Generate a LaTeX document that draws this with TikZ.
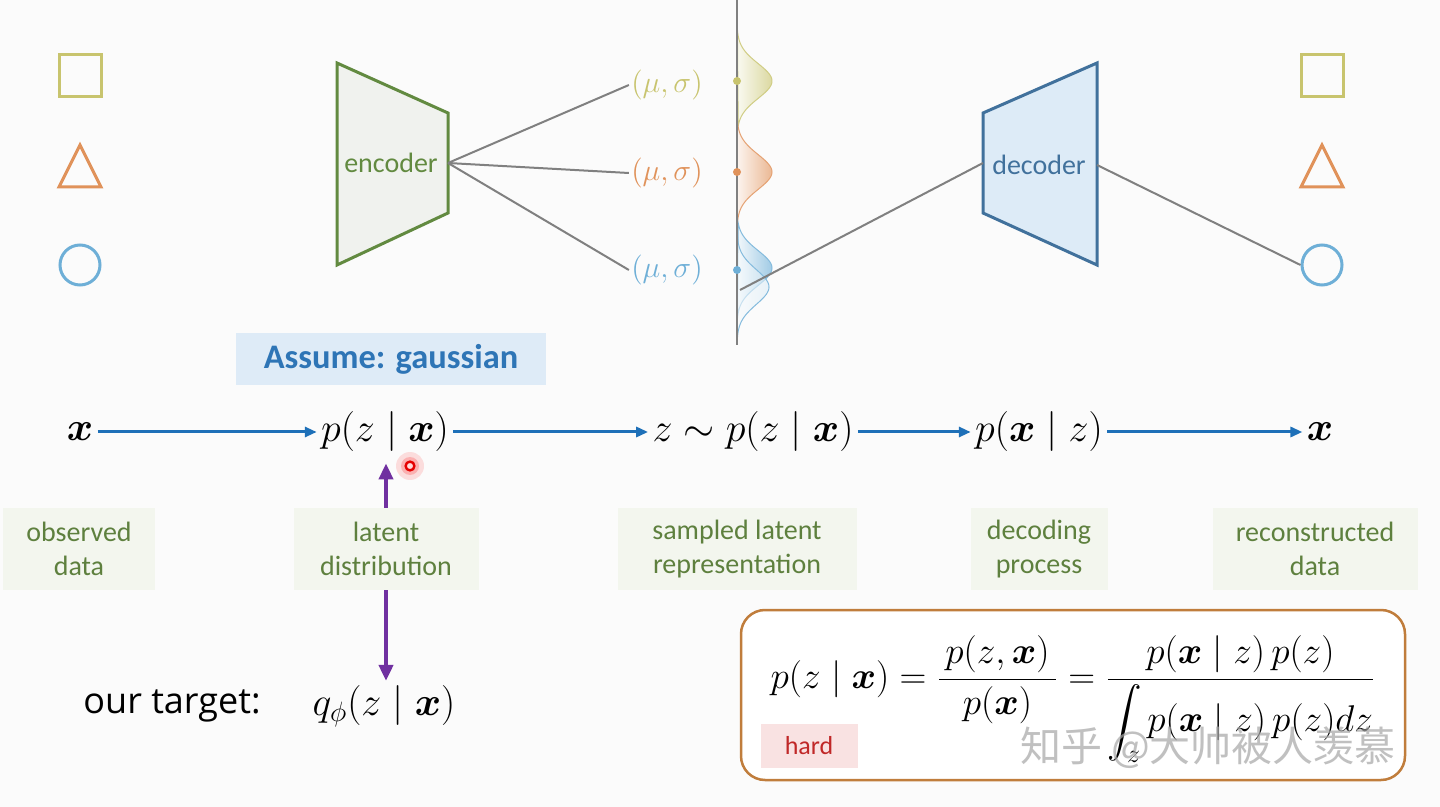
\RequirePackage{fix-cm}
\documentclass[tikz,border=0pt]{standalone}
\usepackage{amsmath}
\usepackage[no-math]{fontspec}
\newfontfamily\labfont{Carlito}
\newfontfamily\tgtfont{Open Sans}
\newfontfamily\cjkfont{Noto Sans CJK SC}
\usetikzlibrary{arrows.meta}
\definecolor{bgc}{RGB}{251,251,251}
\definecolor{olv}{RGB}{200,196,110}
\definecolor{org}{RGB}{224,146,90}
\definecolor{lbl}{RGB}{110,175,215}
\definecolor{encg}{RGB}{98,138,64}
\definecolor{encf}{RGB}{240,242,238}
\definecolor{decb}{RGB}{65,113,156}
\definecolor{decf}{RGB}{221,235,247}
\definecolor{arrb}{RGB}{30,112,184}
\definecolor{purp}{RGB}{112,48,160}
\definecolor{labf}{RGB}{243,246,238}
\definecolor{labt}{RGB}{94,128,62}
\definecolor{asmf}{RGB}{222,235,247}
\definecolor{asmt}{RGB}{46,117,182}
\definecolor{frm}{RGB}{192,125,60}
\definecolor{hardf}{RGB}{249,226,226}
\definecolor{hardt}{RGB}{192,40,40}
\definecolor{lng}{RGB}{128,128,128}
\tikzset{
  mth/.style={inner sep=2pt, font=\fontsize{20}{24}\selectfont},
  musig/.style={inner sep=1pt, font=\fontsize{15}{18}\selectfont},
  barrow/.style={draw=arrb, line width=1.5pt, -{Triangle[length=6pt,width=5pt]}},
  parrow/.style={draw=purp, line width=2pt, -{Triangle[length=8pt,width=7pt]}},
  labbox/.style={fill=labf, text=labt, align=center, inner sep=0pt,
     minimum height=41pt, font=\labfont\fontsize{14}{17}\selectfont},
  shp/.style={line width=1.5pt},
  gline/.style={draw=lng, line width=1pt},
}
\begin{document}
\begin{tikzpicture}[x=0.5pt,y=-0.5pt]
\fill[bgc] (0,0) rectangle (1440,807);
\useasboundingbox (0,0) rectangle (1440,807);

% left shapes
\draw[shp,olv] (59,55) rectangle (101,97);
\draw[shp,org,line join=miter] (59,187) -- (80,145) -- (101,187) -- cycle;
\node[shp,draw=lbl,circle,minimum size=20pt,inner sep=0pt] (lc) at (80,265) {};
% right shapes
\draw[shp,olv] (1301,55) rectangle (1343,97);
\draw[shp,org,line join=miter] (1301,187) -- (1322,145) -- (1343,187) -- cycle;
\node[shp,draw=lbl,circle,minimum size=20pt,inner sep=0pt] (rc) at (1322,265) {};

% encoder
\draw[draw=encg,fill=encf,line width=1.5pt] (337,63) -- (448,113) -- (448,213) -- (337,265) -- cycle;
\node[text=encg,font=\labfont\fontsize{14}{16}\selectfont] (enc) at (391,163) {encoder};
\coordinate (encR) at (448,163);

% decoder
\draw[draw=decb,fill=decf,line width=1.5pt] (983,113) -- (1097,63) -- (1097,265) -- (983,213) -- cycle;
\node[text=decb,font=\labfont\fontsize{14}{16}\selectfont] (dec) at (1039,165) {decoder};
\coordinate (decL) at (983,163);
\coordinate (decR) at (1097,165);

% gaussians
\shade[left color=olv!10, right color=olv!65, draw=olv!85, line width=0.5pt]
  plot[domain=-52:45,samples=60,smooth] ({737+35*exp(-(\x*\x)/600)},{81+\x}) -- cycle;
\shade[left color=org!10, right color=org!65, draw=org!85, line width=0.5pt]
  plot[domain=-57:55,samples=60,smooth] ({737+35*exp(-(\x*\x)/600)},{172+\x}) -- cycle;
\shade[left color=lbl!10, right color=lbl!65, draw=lbl!85, line width=0.5pt]
  plot[domain=-45:50,samples=60,smooth] ({737+35*exp(-(\x*\x)/600)},{268+\x}) -- cycle;
\shade[left color=lbl!5, right color=lbl!25, draw=lbl!85, line width=0.5pt, fill opacity=0.6]
  plot[domain=-55:50,samples=60,smooth] ({737+32*exp(-(\x*\x)/600)},{287+\x}) -- cycle;
\draw[gline] (737,0) -- (737,345);

\fill[olv] (737,81) circle (2pt);
\fill[org] (737,172) circle (2pt);
\fill[lbl] (737,270) circle (2pt);

% mu sigma labels
\node[musig,text=olv] (mu1) at (667,85) {$(\mu,\sigma)$};
\node[musig,text=org] (mu2) at (667,173) {$(\mu,\sigma)$};
\node[musig,text=lbl] (mu3) at (667,270) {$(\mu,\sigma)$};
\draw[gline] (encR) -- (mu1.west);
\draw[gline] (encR) -- (mu2.west);
\draw[gline] (encR) -- (mu3.west);

\coordinate (samp) at (740,290);
\draw[gline] (samp) -- (decL);
\draw[gline] (decR) -- (rc.west);

% assume
\node[fill=asmf,text=asmt,minimum width=155pt,minimum height=26pt,inner sep=0pt,
  font=\labfont\bfseries\fontsize{17.2}{20}\selectfont] (asm) at (391,359) {Assume: gaussian};

% main row
\node[mth] (x1) at (80,432) {$\boldsymbol{x}$};
\node[mth] (pzx) at (385,432) {$p(z\mid\boldsymbol{x})$};
\node[mth] (smp) at (753,432) {$z\sim p(z\mid\boldsymbol{x})$};
\node[mth] (pxz) at (1039,432) {$p(\boldsymbol{x}\mid z)$};
\node[mth] (x2) at (1320,432) {$\boldsymbol{x}$};
\draw[barrow] (x1) -- (pzx);
\draw[barrow] (pzx) -- (smp);
\draw[barrow] (smp) -- (pxz);
\draw[barrow] (pxz) -- (x2);

% label boxes
\node[labbox,minimum width=76pt] (obs) at (79,549) {observed\\data};
\node[labbox,minimum width=92.5pt] (lat) at (386,549) {latent\\distribution};
\node[labbox,minimum width=119.5pt] (sam) at (737,549) {sampled latent\\representation};
\node[labbox,minimum width=68.5pt] (dcp) at (1039,549) {decoding\\process};
\node[labbox,minimum width=102.5pt] (rec) at (1315,549) {reconstructed\\data};

% target
\node[font=\tgtfont\fontsize{18}{22}\selectfont] (tgt) at (172,706) {our target:};
\node[mth] (qphi) at (384,706) {$q_\phi(z\mid\boldsymbol{x})$};

\draw[parrow,shorten >=3.5pt] (lat.north) -- (lat.north |- pzx.south);
\draw[parrow] (lat.south) -- (lat.south |- qphi.north);

% red pointer
\fill[red,opacity=0.12] (410,466) circle (7pt);
\fill[red,opacity=0.2] (410,466) circle (4.5pt);
\draw[red!90!black,line width=1.2pt,fill=red!15] (410,466) circle (2.2pt);

% formula box
\node[draw=frm,line width=1.25pt,fill=white,rounded corners=12pt,minimum width=332pt,minimum height=85pt] (fbox) at (1073,695) {};
\node[inner sep=0pt,font=\fontsize{18.6}{22}\selectfont] (form) at (1073,699)
  {$\displaystyle p(z\mid\boldsymbol{x})=\frac{\,p(z,\boldsymbol{x})\,}{p(\boldsymbol{x})}=\frac{p(\boldsymbol{x}\mid z)\,p(z)}{\displaystyle\int_z p(\boldsymbol{x}\mid z)\,p(z)dz}$};
\node[fill=hardf,text=hardt,minimum width=48.5pt,minimum height=22pt,inner sep=0pt,
  font=\labfont\fontsize{13}{15}\selectfont] (hard) at (809,746) {hard};

% watermark
\node[text=gray!70,opacity=0.7,font=\cjkfont\fontsize{20.5}{24}\selectfont] (wm) at (1208,748) {知乎 @大帅被人羡慕};
\end{tikzpicture}
\end{document}
